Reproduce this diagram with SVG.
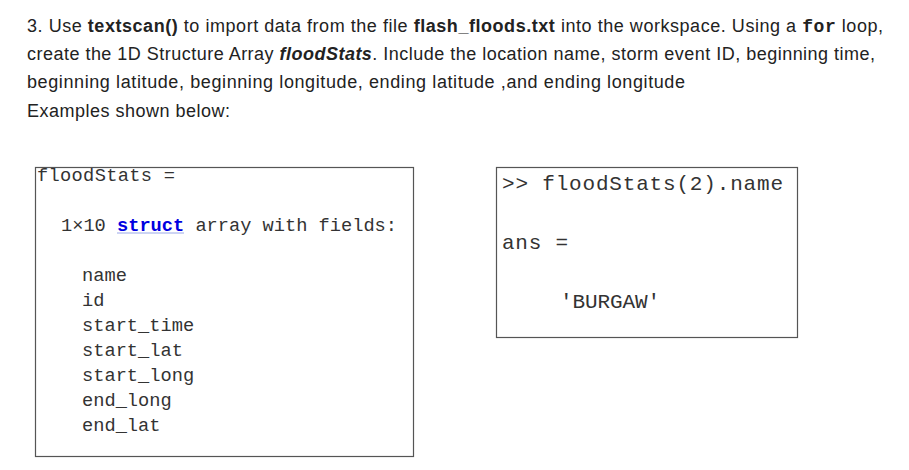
<svg xmlns="http://www.w3.org/2000/svg" width="909" height="470" viewBox="0 0 909 470">
<style>
.p{font-family:"Liberation Sans",Arial,sans-serif;font-size:18px;fill:#222}
.b{font-weight:bold}
.m{font-family:"Liberation Mono","Courier New",monospace;font-size:18.7px;fill:#333}
.r{font-family:"Liberation Mono","Courier New",monospace;font-size:21px;fill:#333}
.box{fill:#fff;stroke:#555;stroke-width:1.2}
</style>
<rect width="909" height="470" fill="#fff"/>
<g id="prompt">
<text class="p" x="27" y="32" textLength="856" lengthAdjust="spacing">3. Use <tspan class="b">textscan()</tspan> to import data from the file <tspan class="b">flash_floods.txt</tspan>  into the workspace. Using a <tspan class="b" style="font-family:'Liberation Mono',monospace">for</tspan>  loop,</text>
<text class="p" x="27" y="60" textLength="848" lengthAdjust="spacing">create the 1D Structure Array  <tspan class="b" font-style="italic">floodStats</tspan>. Include the location name, storm event ID, beginning time,</text>
<text class="p" x="27" y="88" textLength="658" lengthAdjust="spacing">beginning latitude, beginning longitude, ending latitude ,and ending longitude</text>
<text class="p" x="27" y="117" textLength="203" lengthAdjust="spacing">Examples shown below:</text>
</g>
<g id="left-box">
<rect class="box" x="35.5" y="167.5" width="378" height="289"/>
<text class="m" x="37" y="181" textLength="138">floodStats =</text>
<text class="m" x="61" y="231" textLength="336">1×10 <tspan fill="#0000e0" font-weight="bold">struct</tspan> array with fields:</text>
<line x1="117" y1="233" x2="184" y2="233" stroke="#9aa8e8" stroke-width="1"/>
<text class="m" x="82" y="281">name</text>
<text class="m" x="82" y="306">id</text>
<text class="m" x="82" y="331">start_time</text>
<text class="m" x="82" y="356">start_lat</text>
<text class="m" x="82" y="381">start_long</text>
<text class="m" x="82" y="406">end_long</text>
<text class="m" x="82" y="431">end_lat</text>
</g>
<g id="right-box">
<rect class="box" x="496.5" y="167.5" width="301" height="170"/>
<text class="r" x="502" y="190" textLength="281">&gt;&gt; floodStats(2).name</text>
<text class="r" x="502" y="249" textLength="66">ans =</text>
<text class="r" x="560" y="308" textLength="100">'BURGAW'</text>
</g>
</svg>
